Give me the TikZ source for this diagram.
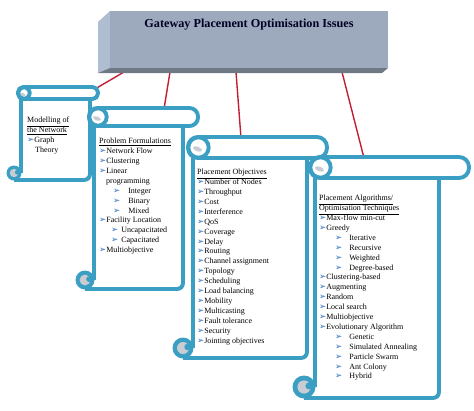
\documentclass[tikz,border=0pt]{standalone}
\usepackage{fontspec}
\setmainfont{Liberation Serif}
\newfontfamily\bulfont{DejaVu Sans}
\definecolor{scrollteal}{HTML}{3A9FC3}
\definecolor{curlgray}{HTML}{C9CDD3}
\definecolor{bulletblue}{HTML}{2B6CB8}
\definecolor{linered}{HTML}{C21E32}
\definecolor{boxfront}{HTML}{9DA9BC}
\definecolor{boxleft}{HTML}{AEBDD0}
\definecolor{boxbottom}{HTML}{6F7885}
\newcommand\bl{\textcolor{bulletblue}{\bulfont\fontsize{8.5}{8.5}\selectfont ➢}}
\newcommand\subit[3]{\hspace*{#1}\bl\hspace*{#2}#3}
% #1 barL #2 barT #3 barR #4 barB #5 bodyL #6 bodyR #7 bodyB #8 curl radius #9 bar radius
\newcommand\scrollshape[9]{%
  \fill[white] (#5,#4) rectangle (#6,#7);
  \draw[scrolline,rounded corners=6pt] (#6,#4) -- (#6,#7) -- ({#5-#8},#7);
  \draw[scrolline] (#5,#4) -- (#5,{#7-#8});
  \fill[scrollteal] ({#5-#8},{#7-#8}) circle ({#8pt+0.5pt});
  \fill[curlgray] ({#5-#8},{#7-#8}) circle ({0.6*#8 pt});
  \fill[scrollteal] ({#5-#8+0.45*#8},{#7-#8-0.1*#8}) circle ({0.32*#8 pt});
  \draw[scrolline,fill=white,rounded corners={#9pt-0.5pt}] (#1,#2) rectangle (#3,#4);
  \draw[scrolline] ({#1+#9},{(#2+#4)/2}) circle ({#9pt-0.3pt});
  \fill[curlgray,rotate around={-20:({#1+#9-1},{(#2+#4)/2+1.5})}] ({#1+#9-1},{(#2+#4)/2+1.5}) ellipse ({0.45*#9 pt} and {0.22*#9 pt});
}
\begin{document}
\begin{tikzpicture}[x=1pt,y=-1pt,
  scrolline/.style={draw=scrollteal,line width=3.9pt},
  redline/.style={draw=linered,line width=1.4pt},
  scrolltext/.style={anchor=north west,inner sep=0pt,align=left,font=\fontsize{8}{9.9}\selectfont},
  titletext/.style={inner sep=0pt,font=\bfseries\fontsize{12.2}{14}\selectfont,text=black!85!blue}]
\useasboundingbox (0,0) rectangle (474,410);

% connector end points
\coordinate (b1) at (124,72);
\coordinate (b2) at (170,72);
\coordinate (b3) at (236,72);
\coordinate (b4) at (342,72);
\coordinate (s1) at (95,89);
\coordinate (s2) at (164,109);
\coordinate (s3) at (241,138);
\coordinate (s4) at (364,158);
\draw[redline] (b1) -- (s1);
\draw[redline] (b2) -- (s2);
\draw[redline] (b3) -- (s3);
\draw[redline] (b4) -- (s4);

% title box
\fill[boxleft] (110,11) -- (98,22) -- (98,73) -- (110,68) -- cycle;
\fill[boxbottom] (110,68) -- (98,73) -- (382,73) -- (388,68) -- cycle;
\fill[boxfront] (110,11) rectangle (388,68);
\node[titletext] (title) at (249,25) {Gateway Placement Optimisation Issues};

% scrolls
\scrollshape{18}{87}{98}{99}{21}{90}{180}{7}{6}
\scrollshape{89}{108}{198}{126}{94}{183}{289}{9}{9}
\scrollshape{188}{137}{327}{158}{193}{307}{358}{10}{10.5}
\scrollshape{310}{157}{469}{178}{315}{439}{398}{11}{10.5}

\node[scrolltext] (t1) at (27,117) {\underline{Modelling of}\\ \underline{the Network}\\ \bl Graph\\ \hspace*{8pt}Theory};

\node[scrolltext] (t2) at (99,138) {\underline{Problem Formulations}\\
\bl Network Flow\\
\bl Clustering\\
\bl Linear\\
\hspace*{7pt}programming\\
\subit{14pt}{8pt}{Integer}\\
\subit{14pt}{8pt}{Binary}\\
\subit{14pt}{8pt}{Mixed}\\
\bl Facility Location\\
\subit{12pt}{3pt}{Uncapacitated}\\
\subit{12pt}{3pt}{Capacitated}\\
\bl Multiobjective};

\node[scrolltext] (t3) at (197,169) {\underline{Placement Objectives}\\
\bl Number of Nodes\\
\bl Throughput\\
\bl Cost\\
\bl Interference\\
\bl QoS\\
\bl Coverage\\
\bl Delay\\
\bl Routing\\
\bl Channel assignment\\
\bl Topology\\
\bl Scheduling\\
\bl Load balancing\\
\bl Mobility\\
\bl Multicasting\\
\bl Fault tolerance\\
\bl Security\\
\bl Jointing objectives};

\node[scrolltext] (t4) at (319,195) {\underline{Placement Algorithms/}\\
\underline{Optimisation Techniques}\\
\bl Max-flow min-cut\\
\bl Greedy\\
\subit{16pt}{7pt}{Iterative}\\
\subit{16pt}{7pt}{Recursive}\\
\subit{16pt}{7pt}{Weighted}\\
\subit{16pt}{7pt}{Degree-based}\\
\bl Clustering-based\\
\bl Augmenting\\
\bl Random\\
\bl Local search\\
\bl Multiobjective\\
\bl Evolutionary Algorithm\\
\subit{16pt}{7pt}{Genetic}\\
\subit{16pt}{7pt}{Simulated Annealing}\\
\subit{16pt}{7pt}{Particle Swarm}\\
\subit{16pt}{7pt}{Ant Colony}\\
\subit{16pt}{7pt}{Hybrid}};
\end{tikzpicture}
\end{document}
